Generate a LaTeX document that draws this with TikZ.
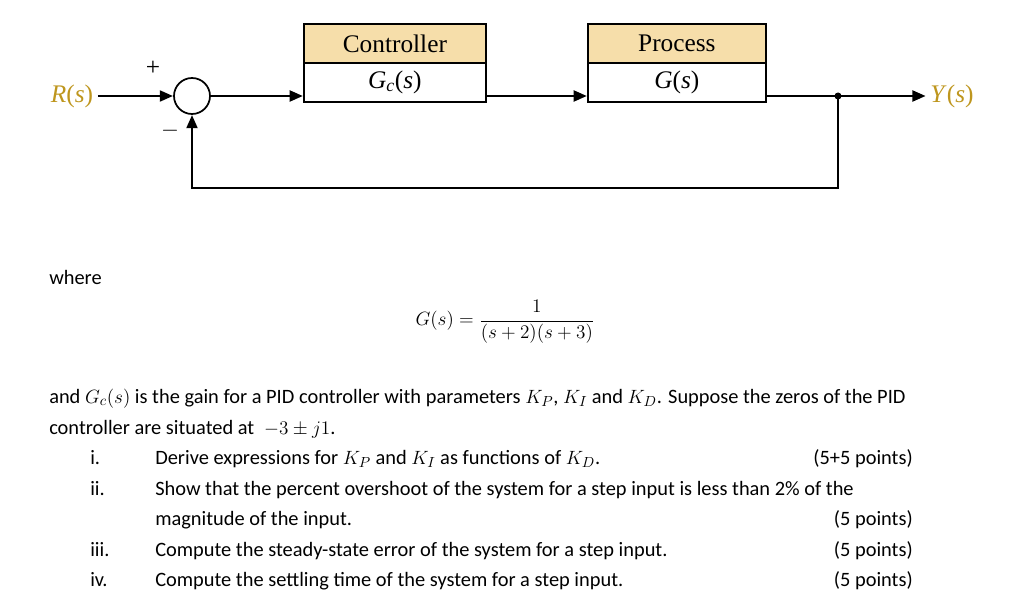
\documentclass[tikz,border=0pt]{standalone}
\usepackage{fontspec}
\setmainfont{Carlito}
\newfontfamily\tms{Liberation Serif}
\usetikzlibrary{arrows.meta}
\definecolor{tan}{RGB}{246,222,170}
\definecolor{gold}{RGB}{190,150,30}
\begin{document}
\begin{tikzpicture}[x=0.75pt,y=-0.75pt,
 arr/.style={line width=2.2pt,-{Triangle[length=10pt,width=8pt]}},
 blk/.style={draw,line width=1.3pt,minimum width=182*0.75pt,minimum height=39*0.75pt,inner sep=0pt,font=\tms\fontsize{19}{21}\selectfont},
 txt/.style={anchor=base west,inner sep=0pt,font=\fontsize{15.3}{17}\selectfont},
 pts/.style={anchor=base east,inner sep=0pt,font=\fontsize{15.3}{17}\selectfont}]
\useasboundingbox (0,0) rectangle (1020,602);
\node[blk,fill=tan,anchor=north west] (ct) at (303,23) {Controller};
\node[blk,anchor=north west] (cb) at (303,62) {\textit{G\textsubscript{c}}(\textit{s})};
\node[blk,fill=tan,anchor=north west,minimum width=178*0.75pt] (pt) at (587,23) {Process};
\node[blk,anchor=north west,minimum width=178*0.75pt] (pb) at (587,62) {\textit{G}(\textit{s})};
\node[draw,circle,line width=1.3pt,minimum size=36*0.75pt,inner sep=0pt] (sum) at (192,96) {};
\node[text=gold,font=\tms\fontsize{19}{21}\selectfont] (R) at (72,96) {\textit{R}(\textit{s})};
\node[text=gold,font=\tms\fontsize{19}{21}\selectfont] (Y) at (952,96) {\textit{Y}(\textit{s})};
\node[font=\tms\fontsize{19}{21}\selectfont] (plus) at (153,68) {+};
\node[font=\tms\fontsize{19}{21}\selectfont] (minus) at (170,131) {$-$};
\coordinate (dot) at (838,96);
\coordinate (c1) at (838,188);
\coordinate (c2) at (192,188);
\draw[arr] (R) -- (sum);
\draw[arr] (sum.east) -- (sum.east -| cb.west);
\draw[arr] (sum.east -| cb.east) -- (sum.east -| pb.west);
\draw[arr] (sum.east -| pb.east) -- (Y);
\fill (dot) circle (3.5*0.75pt);
\draw[arr] (dot) -- (c1) -- (c2) -- (sum.south);
\node[txt] (where) at (49,284) {where};
\node[font=\fontsize{15.3}{17}\selectfont] (eq) at (505,322) {$\displaystyle G(s)=\frac{1}{(s+2)(s+3)}$};
\node[txt] (p1) at (49,403) {and $G_c(s)$ is the gain for a PID controller with parameters $K_P$, $K_I$ and $K_D$. Suppose the zeros of the PID};
\node[txt] (p2) at (49,434) {controller are situated at $\;-3\pm j1$.};
\node[txt] (i1) at (90,464) {i.};
\node[txt] (t1) at (155,464) {Derive expressions for $K_P$ and $K_I$ as functions of $K_D$.};
\node[pts] (s1) at (913,464) {(5+5 points)};
\node[txt] (i2) at (90,495) {ii.};
\node[txt] (t2) at (155,495) {Show that the percent overshoot of the system for a step input is less than 2\% of the};
\node[txt] (t2b) at (155,525) {magnitude of the input.};
\node[pts] (s2) at (913,525) {(5 points)};
\node[txt] (i3) at (90,556) {iii.};
\node[txt] (t3) at (155,556) {Compute the steady-state error of the system for a step input.};
\node[pts] (s3) at (913,556) {(5 points)};
\node[txt] (i4) at (90,586) {iv.};
\node[txt] (t4) at (155,586) {Compute the settling time of the system for a step input.};
\node[pts] (s4) at (913,586) {(5 points)};
\end{tikzpicture}
\end{document}
